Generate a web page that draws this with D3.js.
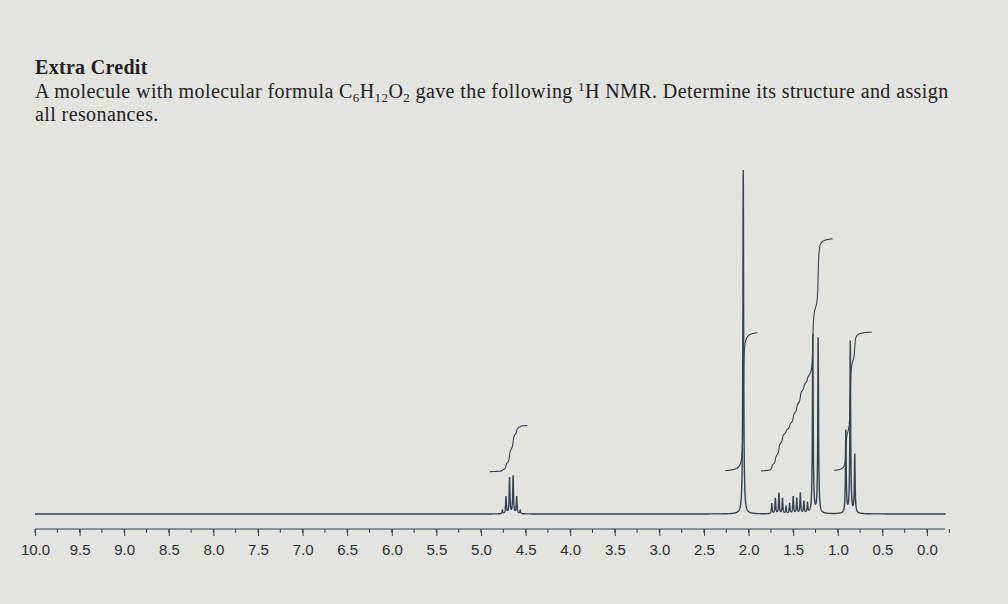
<!DOCTYPE html>
<html><head><meta charset="utf-8">
<script src="https://cdn.jsdelivr.net/npm/d3@7"></script>
<style>
body{margin:0;background:#e3e3e0;}
svg{display:block;}
.hdr{font-family:"Liberation Serif","DejaVu Serif",serif;font-size:20px;fill:#222;letter-spacing:0.4px;}
.tick text{font-family:Arial,"Liberation Sans",sans-serif;font-size:15px;fill:#2c2f33;}
</style></head>
<body><div id="chart"></div>
<script>
// Peaks: ppm, height (fraction of tallest)
var peakPpm    = [4.76, 4.72, 4.68, 4.64, 4.60, 4.56,
                  2.06,
                  1.74, 1.70, 1.66, 1.62, 1.58, 1.54, 1.50, 1.46, 1.42, 1.38, 1.34,
                  1.28, 1.22,
                  0.91, 0.86, 0.81];
var peakHeight = [0.01, 0.05, 0.105, 0.11, 0.05, 0.01,
                  1.0,
                  0.03, 0.045, 0.06, 0.045, 0.02, 0.03, 0.05, 0.045, 0.06, 0.035, 0.03,
                  0.52, 0.51,
                  0.24, 0.50, 0.17];
// integral groups: ppm range start/end and number of H
var intStart = [4.90, 2.26, 1.86, 1.04];
var intEnd   = [4.48, 1.90, 1.06, 0.62];
var intH     = [1, 3, 5, 3];
var intSplit = [null, null, 1.31, null]; // multiplet CH2 (2H) / doublet CH3 (3H) boundary
var tickVals = d3.range(0, 10.01, 0.5);
var minorVals = d3.range(0, 10.01, 0.25);

var svgWidth = 1008, svgHeight = 604;
var svg = d3.select("#chart").append("svg")
  .attr("width", svgWidth).attr("height", svgHeight);

// Header text
svg.append("text").attr("class", "hdr").attr("x", 35).attr("y", 74)
  .style("font-weight", "bold").style("letter-spacing", "0.3px").text("Extra Credit");
var t2 = svg.append("text").attr("class", "hdr").attr("x", 35).attr("y", 98);
t2.append("tspan").text("A molecule with molecular formula C");
t2.append("tspan").attr("font-size", 13).attr("dy", 4).text("6");
t2.append("tspan").attr("dy", -4).text("H");
t2.append("tspan").attr("font-size", 13).attr("dy", 4).text("12");
t2.append("tspan").attr("dy", -4).text("O");
t2.append("tspan").attr("font-size", 13).attr("dy", 4).text("2");
t2.append("tspan").attr("dy", -4).text(" gave the following ");
t2.append("tspan").attr("font-size", 13).attr("dy", -7).text("1");
t2.append("tspan").attr("dy", 7).text("H NMR.  Determine its structure and assign");
svg.append("text").attr("class", "hdr").attr("x", 35).attr("y", 121).text("all resonances.");

var baseY = 514;
var x = d3.scaleLinear().domain([10, 0]).range([35, 927]);
var y = d3.scaleLinear().domain([0, 1]).range([baseY, 170]);
var ink = "#39424d";

// Spectrum from Lorentzian peaks
var w = 0.005;
var pts = d3.range(10.0, -0.21, -0.001).map(function(p) {
  var s = 0;
  peakPpm.forEach(function(c, i) {
    var d = (p - c) / w;
    s += peakHeight[i] / (1 + d * d);
  });
  return [p, Math.min(s, 1)];
});
var line = d3.line().x(d => x(d[0])).y(d => y(d[1]));
svg.append("path").datum(pts).attr("d", line)
  .attr("fill", "none").attr("stroke", ink).attr("stroke-width", 1.4);

// Integral traces
var perH = 47, intBase = 472;
intStart.forEach(function(s, g) {
  var e = intEnd[g];
  var members = [];
  peakPpm.forEach(function(c, i) { if (c <= s && c >= e) members.push(i); });
  var total = d3.sum(members, i => peakHeight[i]);
  var sp = intSplit[g];
  var data = d3.range(s, e - 0.0001, -0.002).map(function(p) {
    var acc = 0;
    members.forEach(function(i) {
      var frac = 0.5 + Math.atan((peakPpm[i] - p) / 0.006) / Math.PI;
      var share;
      if (sp !== null) {
        var inMult = peakPpm[i] > sp;
        var grp = members.filter(j => (peakPpm[j] > sp) === inMult);
        share = (inMult ? 2 : 3) * peakHeight[i] / d3.sum(grp, j => peakHeight[j]);
      } else {
        share = intH[g] * peakHeight[i] / total;
      }
      acc += share * frac;
    });
    return [p, acc];
  });
  svg.append("path").datum(data)
    .attr("d", d3.line().x(d => x(d[0])).y(d => intBase - d[1] * perH).curve(d3.curveBasis))
    .attr("fill", "none").attr("stroke", ink).attr("stroke-width", 1.1);
});

// Axis
var axisY = 529;
var axisG = svg.append("g").attr("transform", `translate(0, ${axisY})`);
axisG.call(d3.axisBottom(x).tickValues(tickVals).tickSize(7)
  .tickFormat(d => d3.format(".1f")(d)).tickSizeOuter(0));
axisG.select(".domain").attr("stroke", ink).attr("d", `M${x(10)},0H945`);
axisG.selectAll(".tick line").attr("stroke", ink);
axisG.selectAll(".tick text").attr("dy", "1.05em");
axisG.selectAll(".minor").data(minorVals.concat([-0.25])).enter().append("line")
  .attr("x1", d => x(d)).attr("x2", d => x(d))
  .attr("y1", 0).attr("y2", 4).attr("stroke", ink);
</script></body></html>
